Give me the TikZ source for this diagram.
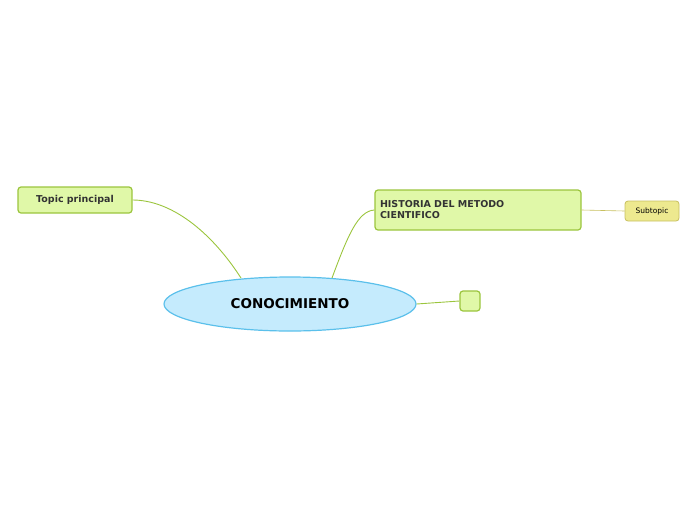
\documentclass[tikz,border=0pt]{standalone}
\usepackage{fontspec}
\setmainfont{DejaVu Sans}
\usetikzlibrary{shapes.geometric}
\definecolor{topfill}{HTML}{E0F8A8}
\definecolor{topline}{HTML}{9BC53D}
\definecolor{cfill}{HTML}{C5EBFD}
\definecolor{cline}{HTML}{5BC0EB}
\definecolor{sfill}{HTML}{EDE98F}
\definecolor{sline}{HTML}{C8C060}
\definecolor{txt}{HTML}{333333}
\tikzset{
 topicbox/.style={draw=topline,fill=topfill,line width=1.2pt,rounded corners=3pt,inner sep=0pt,font=\bfseries\fontsize{9.5}{11}\selectfont,text=txt},
 conn/.style={draw=topline,line width=0.9pt},
}
\begin{document}
\begin{tikzpicture}[x=1pt,y=-1pt]
\useasboundingbox (0,0) rectangle (696,520);
\node[ellipse,draw=cline,fill=cfill,line width=1.2pt,minimum width=252pt,minimum height=54pt,font=\bfseries\fontsize{13.5}{16}\selectfont] (c) at (290,304) {CONOCIMIENTO};
\node[topicbox,minimum width=114pt,minimum height=26pt] (t) at (75,200) {Topic principal};
\node[topicbox,minimum width=206pt,minimum height=40pt,align=left,text width=196pt] (h) at (478,210) {HISTORIA DEL METODO\\CIENTIFICO};
\node[topicbox,minimum width=20pt,minimum height=20pt] (e) at (470,301) {};
\node[draw=sline,fill=sfill,line width=0.8pt,rounded corners=3pt,minimum width=54pt,minimum height=20pt,inner sep=0pt,font=\fontsize{7.5}{9}\selectfont] (s) at (652,211) {Subtopic};
\coordinate (c1) at (241,278);
\coordinate (c2) at (332,278);
\draw[conn] (c1) .. controls (210,230) and (170,200) .. (t.east);
\draw[conn] (c2) .. controls (348,235) and (358,211) .. (h.west);
\draw[conn] (c.east) -- (e.west);
\draw[draw=sline,line width=0.6pt] (h.east) -- (s.west);
\end{tikzpicture}
\end{document}
